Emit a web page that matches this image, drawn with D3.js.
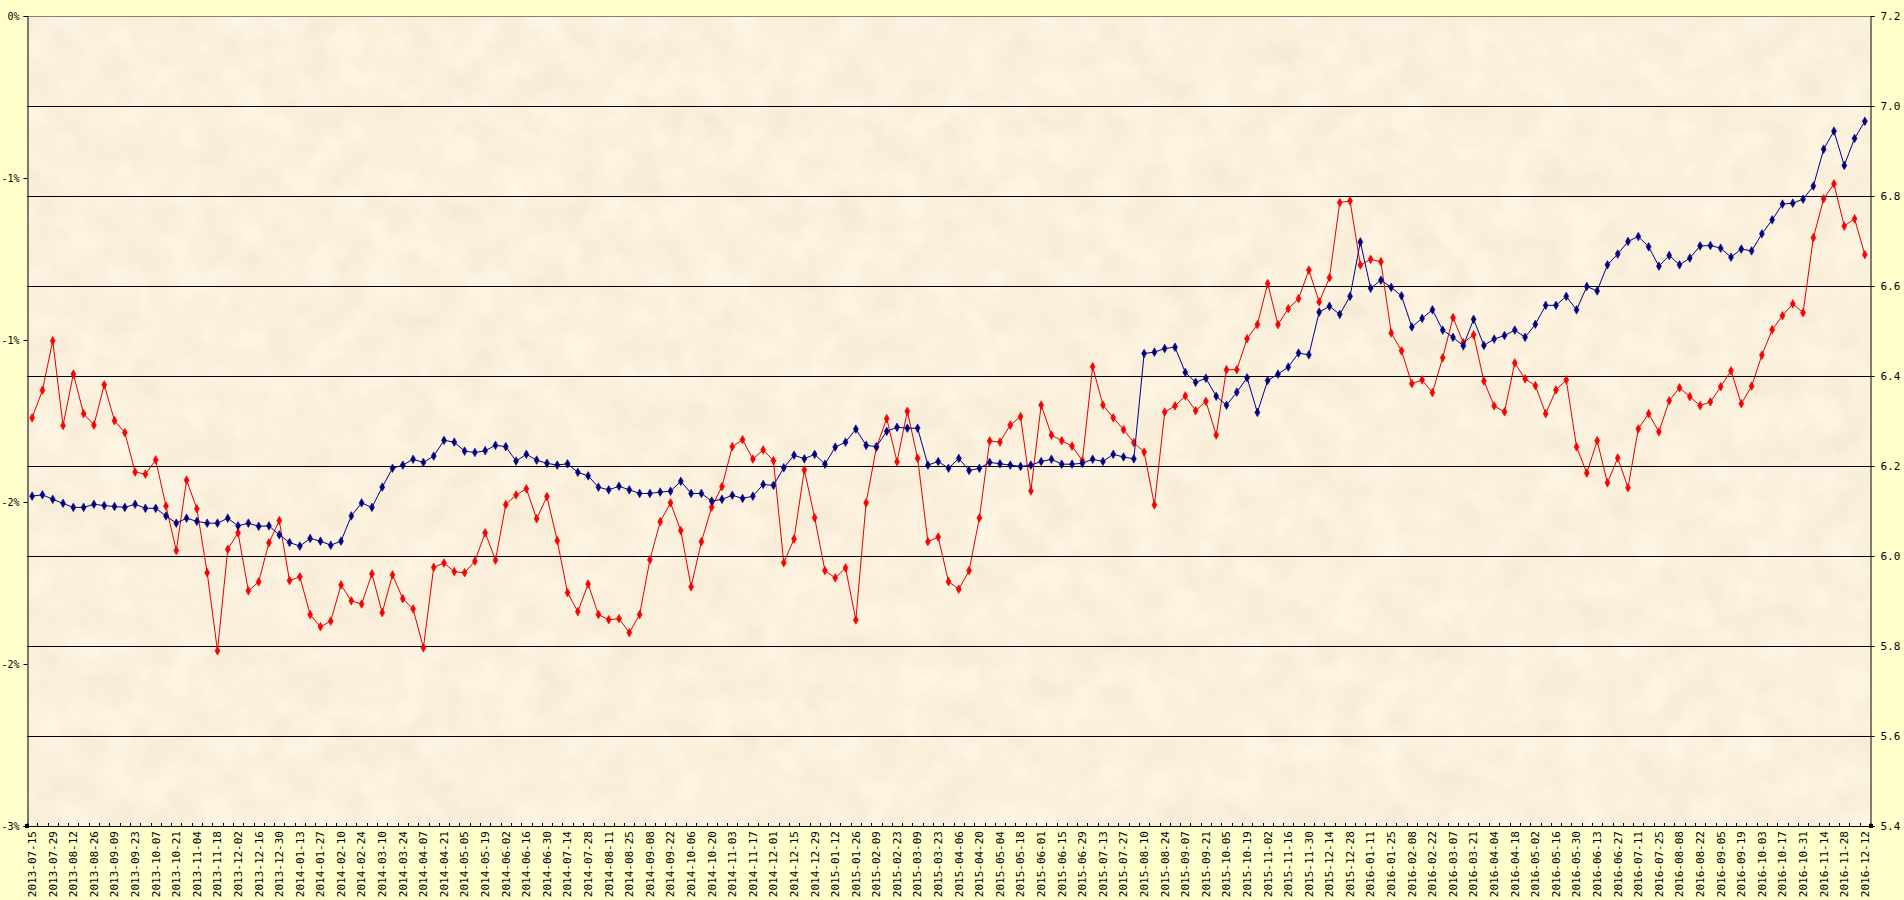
<!DOCTYPE html>
<html>
<head>
<meta charset="utf-8">
<script src="https://cdn.jsdelivr.net/npm/d3@7"></script>
<style>
  html, body { margin: 0; padding: 0; background: #FFFFCC; }
  svg { display: block; }
  text { font-family: "DejaVu Sans Mono", "Liberation Mono", monospace; fill: #000; }
</style>
</head>
<body>
<svg id="chart" width="1904" height="900"></svg>
<script>
const dates = [
"2013-07-15","2013-07-22","2013-07-29","2013-08-05","2013-08-12","2013-08-19","2013-08-26","2013-09-02","2013-09-09","2013-09-16",
"2013-09-23","2013-09-30","2013-10-07","2013-10-14","2013-10-21","2013-10-28","2013-11-04","2013-11-11","2013-11-18","2013-11-25",
"2013-12-02","2013-12-09","2013-12-16","2013-12-23","2013-12-30",
"2014-01-06","2014-01-13","2014-01-20","2014-01-27","2014-02-03","2014-02-10","2014-02-17","2014-02-24","2014-03-03","2014-03-10",
"2014-03-17","2014-03-24","2014-03-31","2014-04-07","2014-04-14","2014-04-21","2014-04-28","2014-05-05","2014-05-12","2014-05-19",
"2014-05-26","2014-06-02","2014-06-09","2014-06-16","2014-06-23","2014-06-30","2014-07-07","2014-07-14","2014-07-21","2014-07-28",
"2014-08-04","2014-08-11","2014-08-18","2014-08-25","2014-09-01","2014-09-08","2014-09-15","2014-09-22","2014-09-29","2014-10-06",
"2014-10-13","2014-10-20","2014-10-27","2014-11-03","2014-11-10","2014-11-17","2014-11-24","2014-12-01","2014-12-08","2014-12-15",
"2014-12-22","2014-12-29",
"2015-01-05","2015-01-12","2015-01-19","2015-01-26","2015-02-02","2015-02-09","2015-02-16","2015-02-23","2015-03-02","2015-03-09",
"2015-03-16","2015-03-23","2015-03-30","2015-04-06","2015-04-13","2015-04-20","2015-04-27","2015-05-04","2015-05-11","2015-05-18",
"2015-05-25","2015-06-01","2015-06-08","2015-06-15","2015-06-22","2015-06-29","2015-07-06","2015-07-13","2015-07-20","2015-07-27",
"2015-08-03","2015-08-10","2015-08-17","2015-08-24","2015-08-31","2015-09-07","2015-09-14","2015-09-21","2015-09-28","2015-10-05",
"2015-10-12","2015-10-19","2015-10-26","2015-11-02","2015-11-09","2015-11-16","2015-11-23","2015-11-30","2015-12-07","2015-12-14",
"2015-12-21","2015-12-28",
"2016-01-04","2016-01-11","2016-01-18","2016-01-25","2016-02-01","2016-02-08","2016-02-15","2016-02-22","2016-02-29","2016-03-07",
"2016-03-14","2016-03-21","2016-03-28","2016-04-04","2016-04-11","2016-04-18","2016-04-25","2016-05-02","2016-05-09","2016-05-16",
"2016-05-23","2016-05-30","2016-06-06","2016-06-13","2016-06-20","2016-06-27","2016-07-04","2016-07-11","2016-07-18","2016-07-25",
"2016-08-01","2016-08-08","2016-08-15","2016-08-22","2016-08-29","2016-09-05","2016-09-12","2016-09-19","2016-09-26","2016-10-03",
"2016-10-10","2016-10-17","2016-10-24","2016-10-31","2016-11-07","2016-11-14","2016-11-21","2016-11-28","2016-12-05","2016-12-12"
];

// Blue series (right axis)
const rateValues = [
6.133,6.136,6.126,6.117,6.108,6.108,6.115,6.112,6.110,6.108,
6.115,6.106,6.106,6.089,6.073,6.084,6.077,6.073,6.073,6.084,
6.067,6.073,6.066,6.067,6.047,6.030,6.022,6.039,6.033,6.024,
6.033,6.089,6.118,6.108,6.153,6.195,6.202,6.215,6.208,6.222,
6.257,6.253,6.233,6.230,6.234,6.246,6.243,6.211,6.226,6.213,
6.206,6.202,6.205,6.186,6.178,6.153,6.147,6.155,6.147,6.139,
6.139,6.142,6.144,6.166,6.139,6.139,6.122,6.126,6.135,6.128,
6.133,6.159,6.157,6.196,6.224,6.216,6.226,6.204,6.242,6.253,
6.282,6.246,6.243,6.277,6.286,6.284,6.284,6.202,6.210,6.195,
6.217,6.190,6.195,6.208,6.205,6.202,6.199,6.202,6.210,6.215,
6.204,6.204,6.206,6.215,6.210,6.226,6.220,6.216,6.450,6.453,
6.461,6.464,6.408,6.386,6.395,6.355,6.335,6.364,6.396,6.319,
6.390,6.404,6.420,6.451,6.447,6.542,6.555,6.537,6.577,6.698,
6.595,6.613,6.597,6.578,6.509,6.528,6.547,6.502,6.486,6.467,
6.526,6.468,6.482,6.490,6.502,6.486,6.515,6.557,6.557,6.577,
6.547,6.599,6.589,6.647,6.671,6.699,6.710,6.687,6.644,6.668,
6.647,6.662,6.689,6.690,6.684,6.664,6.682,6.678,6.716,6.747,
6.782,6.784,6.793,6.822,6.904,6.944,6.868,6.928,6.966
];

// Red series (left axis, %)
const spreadValues = [
-1.488,-1.386,-1.203,-1.517,-1.326,-1.473,-1.515,-1.366,-1.499,-1.543,
-1.689,-1.697,-1.644,-1.815,-1.980,-1.719,-1.825,-2.062,-2.351,-1.975,
-1.914,-2.129,-2.096,-1.951,-1.869,-2.091,-2.077,-2.217,-2.262,-2.241,
-2.107,-2.166,-2.178,-2.066,-2.210,-2.070,-2.158,-2.196,-2.340,-2.042,
-2.026,-2.058,-2.062,-2.019,-1.914,-2.015,-1.810,-1.774,-1.751,-1.862,
-1.780,-1.943,-2.136,-2.206,-2.104,-2.217,-2.236,-2.232,-2.284,-2.217,
-2.014,-1.873,-1.803,-1.906,-2.114,-1.947,-1.819,-1.743,-1.595,-1.569,
-1.641,-1.607,-1.647,-2.025,-1.937,-1.681,-1.858,-2.054,-2.081,-2.044,
-2.237,-1.803,-1.597,-1.491,-1.651,-1.464,-1.638,-1.947,-1.930,-2.095,
-2.123,-2.054,-1.859,-1.574,-1.578,-1.515,-1.484,-1.759,-1.441,-1.552,
-1.573,-1.593,-1.647,-1.299,-1.441,-1.488,-1.532,-1.580,-1.615,-1.811,
-1.467,-1.444,-1.407,-1.462,-1.427,-1.552,-1.310,-1.310,-1.195,-1.143,
-0.991,-1.143,-1.084,-1.047,-0.941,-1.059,-0.969,-0.691,-0.685,-0.922,
-0.901,-0.910,-1.174,-1.240,-1.362,-1.348,-1.395,-1.266,-1.117,-1.210,
-1.181,-1.352,-1.444,-1.466,-1.285,-1.344,-1.369,-1.473,-1.385,-1.348,
-1.596,-1.693,-1.573,-1.729,-1.637,-1.747,-1.529,-1.473,-1.540,-1.425,
-1.377,-1.410,-1.443,-1.429,-1.373,-1.314,-1.436,-1.371,-1.256,-1.162,
-1.110,-1.066,-1.099,-0.821,-0.677,-0.622,-0.778,-0.751,-0.884
];

const leftTicks = [0, -0.6, -1.2, -1.8, -2.4, -3.0];
const rightTicks = [5.4, 5.6, 5.8, 6.0, 6.2, 6.4, 6.6, 6.8, 7.0, 7.2];

const W = 1904, H = 900;
const plot = { left: 27, top: 16, right: 1870, bottom: 826 };

const svg = d3.select("#chart");

// background
svg.append("rect").attr("width", W).attr("height", H).attr("fill", "#FFFFCC");

// parchment texture filter
const defs = svg.append("defs");
const f = defs.append("filter").attr("id", "parch")
  .attr("x", 0).attr("y", 0).attr("width", 1).attr("height", 1)
  .attr("color-interpolation-filters", "sRGB");
f.append("feTurbulence").attr("type", "fractalNoise").attr("baseFrequency", "0.03").attr("numOctaves", 3).attr("seed", 7).attr("result", "n");
f.append("feColorMatrix").attr("in", "n").attr("type", "matrix")
  .attr("values", "0.05 0 0 0 0.955  0.06 0 0 0 0.912  0.08 0 0 0 0.825  0 0 0 0 1");

svg.append("rect")
  .attr("x", plot.left).attr("y", plot.top)
  .attr("width", plot.right - plot.left).attr("height", plot.bottom - plot.top)
  .attr("fill", "#F9EEDA")
  .attr("filter", "url(#parch)");

// scales
const x = d3.scaleBand().domain(dates).range([plot.left, plot.right]).paddingInner(0).paddingOuter(0);
const bw = x.bandwidth();
const cx = d => x(d) + bw / 2;
const yL = d3.scaleLinear().domain([-3, 0]).range([plot.bottom, plot.top]);
const yR = d3.scaleLinear().domain([5.4, 7.2]).range([plot.bottom, plot.top]);

// gridlines (right axis major)
svg.append("g").selectAll("line")
  .data(rightTicks.filter(t => t > 5.45 && t < 7.15))
  .join("line")
  .attr("x1", plot.left).attr("x2", plot.right)
  .attr("y1", d => Math.round(yR(d)) + 0.5).attr("y2", d => Math.round(yR(d)) + 0.5)
  .attr("stroke", "#000").attr("stroke-width", 1);

// top border
svg.append("line")
  .attr("x1", plot.left).attr("x2", plot.right)
  .attr("y1", plot.top + 0.5).attr("y2", plot.top + 0.5)
  .attr("stroke", "#808080");

// left axis
const gL = svg.append("g").attr("transform", `translate(${plot.left + 0.5},0)`)
  .call(d3.axisLeft(yL).tickValues(leftTicks).tickSize(4).tickPadding(4)
    .tickFormat(d => Math.round(d) + "%"));
gL.select(".domain").attr("stroke", "#000");
gL.selectAll(".tick line").attr("stroke", "#000");
gL.selectAll("text").style("font-size", "10px").style("font-family", "'DejaVu Sans Mono', monospace").attr("fill", "#000");

// right axis
const gR = svg.append("g").attr("transform", `translate(${plot.right + 0.5},0)`)
  .call(d3.axisRight(yR).tickValues(rightTicks).tickSize(4).tickPadding(6)
    .tickFormat(d3.format(".1f")));
gR.select(".domain").attr("stroke", "#000");
gR.selectAll(".tick line").attr("stroke", "#000");
gR.selectAll("text").style("font-size", "11px").style("font-family", "'DejaVu Sans Mono', monospace").attr("fill", "#000");

// bottom axis line + category boundary ticks (inside)
svg.append("line")
  .attr("x1", plot.left).attr("x2", plot.right + 1)
  .attr("y1", plot.bottom + 0.5).attr("y2", plot.bottom + 0.5)
  .attr("stroke", "#000");
const bounds = dates.map(d => x(d)).concat([plot.right]);
svg.append("g").selectAll("line").data(bounds).join("line")
  .attr("x1", d => Math.round(d) + 0.5).attr("x2", d => Math.round(d) + 0.5)
  .attr("y1", plot.bottom - 3).attr("y2", plot.bottom)
  .attr("stroke", "#000");

// x labels every second category
const xAxis = d3.axisBottom(x).tickValues(dates.filter((d, i) => i % 2 === 0)).tickSize(0).tickPadding(0);
const gX = svg.append("g").attr("transform", `translate(0,${plot.bottom})`).call(xAxis);
gX.select(".domain").remove();
gX.selectAll("text")
  .style("font-size", "11px").style("font-family", "'DejaVu Sans Mono', monospace").attr("fill", "#000")
  .attr("text-anchor", "end")
  .attr("transform", "rotate(-90)")
  .attr("x", -5).attr("y", 0).attr("dy", "0.35em");

// series
const lineR = d3.line().x((d, i) => cx(dates[i])).y(d => yL(d));
const lineB = d3.line().x((d, i) => cx(dates[i])).y(d => yR(d));
const diamond = d3.symbol().type(d3.symbolDiamond).size(22);

svg.append("path").datum(spreadValues).attr("d", lineR)
  .attr("fill", "none").attr("stroke", "#E00000").attr("stroke-width", 1);
svg.append("g").selectAll("path").data(spreadValues).join("path")
  .attr("transform", (d, i) => `translate(${cx(dates[i])},${yL(d)})`)
  .attr("d", diamond).attr("fill", "#FF0000").attr("stroke", "#E00000").attr("stroke-width", 0.5);

svg.append("path").datum(rateValues).attr("d", lineB)
  .attr("fill", "none").attr("stroke", "#000080").attr("stroke-width", 1);
svg.append("g").selectAll("path").data(rateValues).join("path")
  .attr("transform", (d, i) => `translate(${cx(dates[i])},${yR(d)})`)
  .attr("d", diamond).attr("fill", "#000080").attr("stroke", "#000080").attr("stroke-width", 0.5);

// small corner markers
svg.append("rect").attr("x", plot.left - 2).attr("y", plot.bottom - 2).attr("width", 4).attr("height", 4).attr("fill", "#000");
svg.append("rect").attr("x", plot.right - 1).attr("y", plot.bottom - 2).attr("width", 4).attr("height", 4).attr("fill", "#000");
</script>
</body>
</html>
